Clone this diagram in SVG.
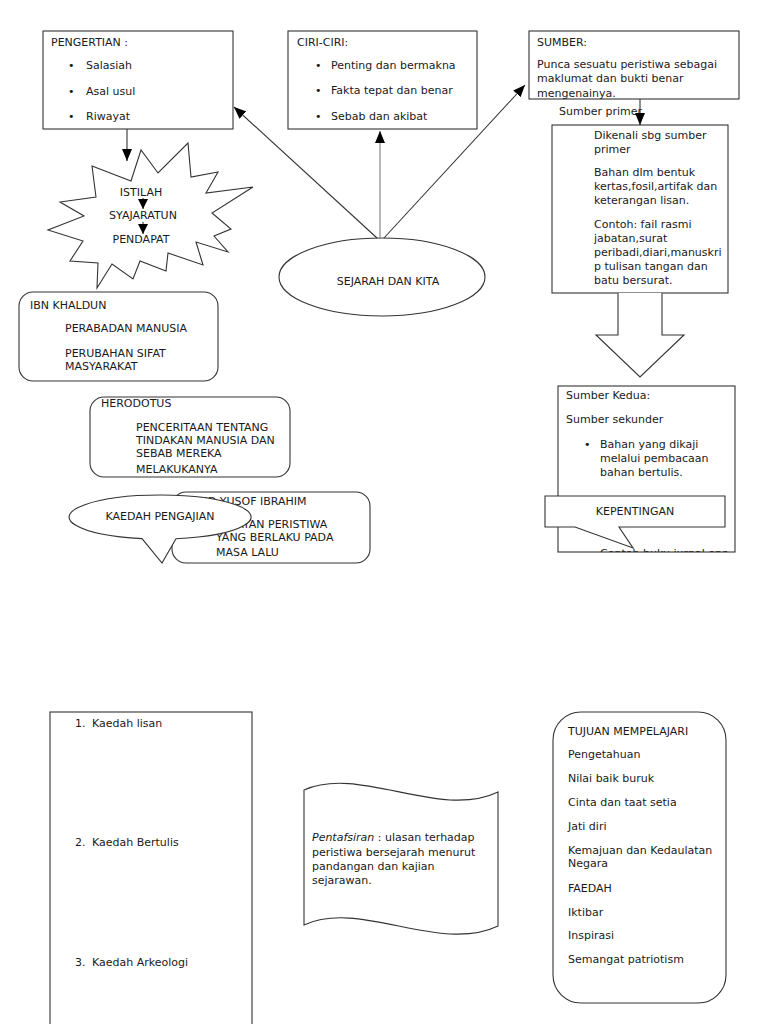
<svg xmlns="http://www.w3.org/2000/svg" width="768" height="1024" viewBox="0 0 768 1024">
<style>
text{font-family:"DejaVu Sans","Liberation Sans",sans-serif;font-size:11px;fill:#1a1a1a}
.box{fill:#fff;stroke:#333;stroke-width:1.1}
.ln{stroke:#333;stroke-width:1.1;fill:none}
.gray{stroke:#999;stroke-width:1.4;fill:none}
.it{font-style:italic}
.mid{text-anchor:middle}
</style>
<defs>
<marker id="ah" viewBox="0 0 12 10" refX="12" refY="5" markerWidth="12" markerHeight="10" markerUnits="userSpaceOnUse" orient="auto"><path d="M0,0 L12,5 L0,10 z" fill="#000"/></marker>
<marker id="ahs" viewBox="0 0 10 10" refX="10" refY="5" markerWidth="10" markerHeight="10" markerUnits="userSpaceOnUse" orient="auto"><path d="M0,0 L10,5 L0,10 z" fill="#000"/></marker>
<clipPath id="clipSumber"><rect x="529" y="31" width="210" height="68"/></clipPath>
<clipPath id="clipKedua"><rect x="558" y="386" width="177" height="166"/></clipPath>
</defs>

<g id="pengertian">
<rect class="box" x="43" y="31" width="190" height="98"/>
<text x="51" y="46">PENGERTIAN :</text>
<text x="68" y="69">•</text><text x="86" y="69">Salasiah</text>
<text x="68" y="95">•</text><text x="86" y="95">Asal usul</text>
<text x="68" y="120">•</text><text x="86" y="120">Riwayat</text>
</g>

<g id="ciri">
<rect class="box" x="288" y="31" width="189" height="98"/>
<text x="297" y="46">CIRI-CIRI:</text>
<text x="315" y="69">•</text><text x="331" y="69">Penting dan bermakna</text>
<text x="315" y="94">•</text><text x="331" y="94">Fakta tepat dan benar</text>
<text x="315" y="120">•</text><text x="331" y="120">Sebab dan akibat</text>
</g>

<g id="sumber">
<rect class="box" x="529" y="31" width="210" height="68"/>
<g clip-path="url(#clipSumber)">
<text x="537" y="46">SUMBER:</text>
<text x="537" y="68">Punca sesuatu peristiwa sebagai</text>
<text x="537" y="82">maklumat dan bukti benar</text>
<text x="537" y="97">mengenainya.</text>
</g>
</g>

<g id="sumber-primer-label">
<text x="559" y="115">Sumber primer</text>
</g>

<g id="primer">
<rect class="box" x="552" y="125" width="176" height="168"/>
<text x="594" y="139">Dikenali sbg sumber</text>
<text x="594" y="153">primer</text>
<text x="594" y="176">Bahan dlm bentuk</text>
<text x="594" y="190">kertas,fosil,artifak dan</text>
<text x="594" y="204">keterangan lisan.</text>
<text x="594" y="228">Contoh: fail rasmi</text>
<text x="594" y="242">jabatan,surat</text>
<text x="594" y="256">peribadi,diari,manuskri</text>
<text x="594" y="270">p tulisan tangan dan</text>
<text x="594" y="284">batu bersurat.</text>
</g>

<g id="block-arrow">
<path class="box" d="M618,293 L618,335 L596,335 L640,377 L684,335 L662,335 L662,293"/>
</g>

<g id="kedua">
<rect class="box" x="558" y="386" width="177" height="166"/>
<g clip-path="url(#clipKedua)">
<text x="566" y="399">Sumber Kedua:</text>
<text x="566" y="423">Sumber sekunder</text>
<text x="584" y="448">•</text><text x="600" y="448">Bahan yang dikaji</text>
<text x="600" y="462">melalui pembacaan</text>
<text x="600" y="476">bahan bertulis.</text>
<text x="584" y="557">•</text><text x="600" y="557">Contoh:buku,jurnal,ens</text>
</g>
</g>

<g id="kepentingan">
<path class="box" d="M545,496 L725,496 L725,527 L619,527 L633,548 L575,527 L545,527 Z"/>
<text class="mid" x="635" y="515">KEPENTINGAN</text>
</g>

<g id="sejarah">
<ellipse class="box" cx="382" cy="277" rx="103" ry="39"/>
<text class="mid" x="388" y="285">SEJARAH DAN KITA</text>
</g>

<g id="istilah">
<polygon class="box" points="92,166 131,181 141,150 158,173 188,143 191,177 218,172 206,193 253,187 212,213 231,229 214,236 228,252 196,242 203,265 168,253 166,271 140,261 133,279 112,264 97,288 98,263 70,261 83,241 48,230 84,216 60,202 96,197"/>
<text class="mid" x="141" y="196">ISTILAH</text>
<text class="mid" x="143" y="219">SYAJARATUN</text>
<text class="mid" x="141" y="243">PENDAPAT</text>
<line class="ln" x1="143" y1="198" x2="143" y2="209" marker-end="url(#ahs)"/>
<line class="ln" x1="143" y1="222" x2="143" y2="234" marker-end="url(#ahs)"/>
</g>

<g id="ibn-khaldun">
<rect class="box" x="19" y="292" width="199" height="89" rx="14"/>
<text x="30" y="309">IBN KHALDUN</text>
<text x="65" y="332">PERABADAN MANUSIA</text>
<text x="65" y="357">PERUBAHAN SIFAT</text>
<text x="65" y="370">MASYARAKAT</text>
</g>

<g id="herodotus">
<rect class="box" x="90" y="397" width="200" height="80" rx="14"/>
<text x="101" y="407">HERODOTUS</text>
<text x="136" y="431">PENCERITAAN TENTANG</text>
<text x="136" y="444">TINDAKAN MANUSIA DAN</text>
<text x="136" y="457">SEBAB MEREKA</text>
<text x="136" y="473">MELAKUKANYA</text>
</g>

<g id="yusof">
<rect class="box" x="172" y="492" width="198" height="71" rx="14"/>
<text x="182" y="505">MUHD YUSOF IBRAHIM</text>
<text x="216" y="528">CATATAN PERISTIWA</text>
<text x="216" y="541">YANG BERLAKU PADA</text>
<text x="216" y="556">MASA LALU</text>
</g>

<g id="kaedah-pengajian">
<path class="box" d="M142,538.6 A91,22 0 1 1 176,538.7 L162,563 Z"/>
<text class="mid" x="160" y="520">KAEDAH PENGAJIAN</text>
</g>

<g id="kaedah-list">
<rect class="box" x="50" y="712" width="202" height="330"/>
<text x="75" y="727">1.</text><text x="92" y="727">Kaedah lisan</text>
<text x="75" y="846">2.</text><text x="92" y="846">Kaedah Bertulis</text>
<text x="75" y="966">3.</text><text x="92" y="966">Kaedah Arkeologi</text>
</g>

<g id="pentafsiran">
<path class="box" d="M304,790 C360,765 440,820 498,792 L498,926 C440,954 360,899 304,925 Z"/>
<text x="312" y="841"><tspan class="it">Pentafsiran</tspan> : ulasan terhadap</text>
<text x="312" y="856">peristiwa bersejarah menurut</text>
<text x="312" y="870">pandangan dan kajian</text>
<text x="312" y="884">sejarawan.</text>
</g>

<g id="tujuan">
<rect class="box" x="553" y="712" width="173" height="291" rx="28"/>
<text x="568" y="735">TUJUAN MEMPELAJARI</text>
<text x="568" y="758">Pengetahuan</text>
<text x="568" y="782">Nilai baik buruk</text>
<text x="568" y="806">Cinta dan taat setia</text>
<text x="568" y="830">Jati diri</text>
<text x="568" y="854">Kemajuan dan Kedaulatan</text>
<text x="568" y="867">Negara</text>
<text x="568" y="892">FAEDAH</text>
<text x="568" y="916">Iktibar</text>
<text x="568" y="939">Inspirasi</text>
<text x="568" y="963">Semangat patriotism</text>
</g>

<g id="connectors">
<line class="ln" x1="377" y1="238" x2="234" y2="107" marker-end="url(#ah)"/>
<line class="gray" x1="380" y1="238" x2="380" y2="131" marker-end="url(#ah)"/>
<line class="ln" x1="384" y1="238" x2="525" y2="85" marker-end="url(#ah)"/>
<line class="ln" x1="127" y1="129" x2="127" y2="161" marker-end="url(#ah)"/>
<line class="ln" x1="640" y1="99" x2="640" y2="125" marker-end="url(#ah)"/>
</g>
</svg>
